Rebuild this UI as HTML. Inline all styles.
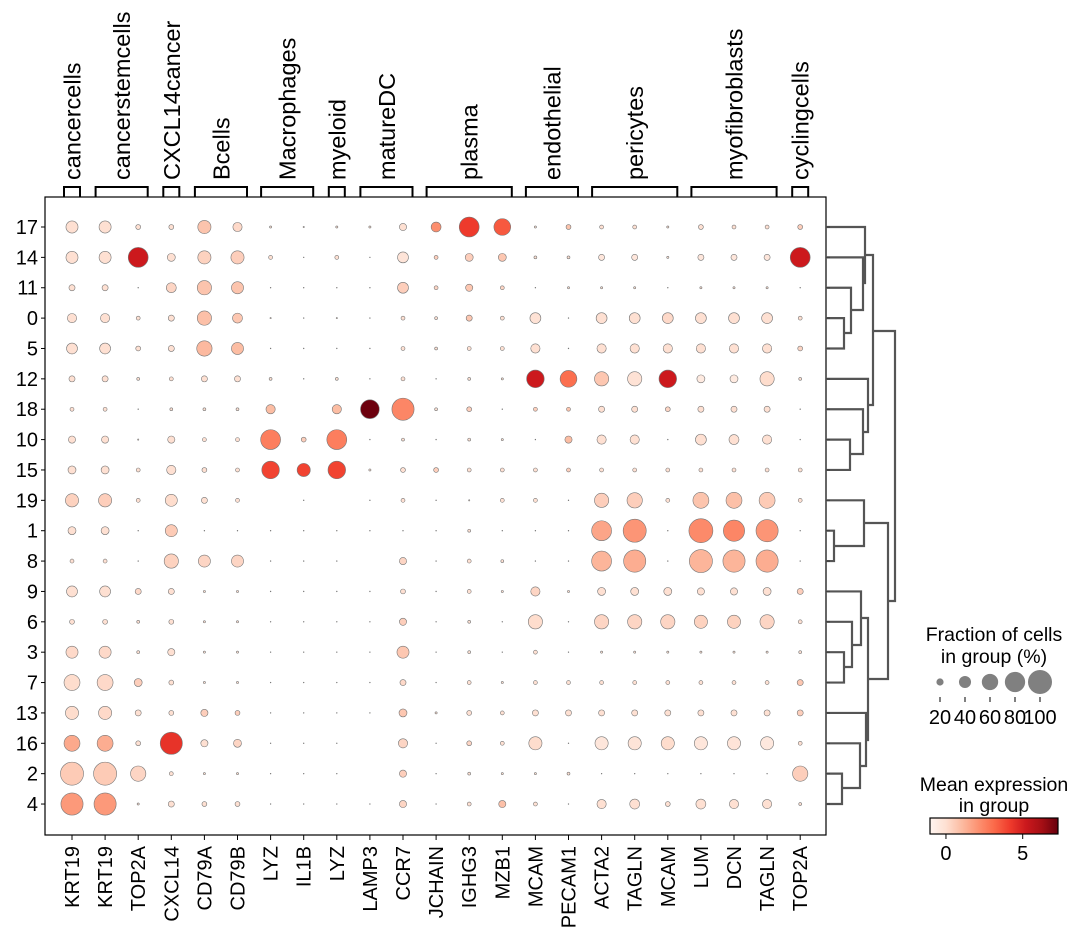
<!DOCTYPE html>
<html><head><meta charset="utf-8"><style>
html,body{margin:0;padding:0;background:#fff;}
svg{display:block;font-family:"Liberation Sans",Arial,sans-serif;}
</style></head><body>
<svg id="chart" width="1080" height="939" viewBox="0 0 1080 939" xmlns="http://www.w3.org/2000/svg">
<defs><linearGradient id="reds" x1="0" x2="1" y1="0" y2="0">
<stop offset="0" stop-color="#fff5f0"/><stop offset="0.125" stop-color="#fee0d2"/><stop offset="0.25" stop-color="#fcbba1"/><stop offset="0.375" stop-color="#fc9272"/><stop offset="0.5" stop-color="#fb6a4a"/><stop offset="0.625" stop-color="#ef3b2c"/><stop offset="0.75" stop-color="#cb181d"/><stop offset="0.875" stop-color="#a50f15"/><stop offset="1" stop-color="#67000d"/>
</linearGradient></defs>
<g id="plot"></g>
</svg>
<script>
const genes = ["KRT19","KRT19","TOP2A","CXCL14","CD79A","CD79B","LYZ","IL1B","LYZ","LAMP3","CCR7","JCHAIN","IGHG3","MZB1","MCAM","PECAM1","ACTA2","TAGLN","MCAM","LUM","DCN","TAGLN","TOP2A"];
const clusters = ["17","14","11","0","5","12","18","10","15","19","1","8","9","6","3","7","13","16","2","4"];
const groupNames = ["cancercells","cancerstemcells","CXCL14cancer","Bcells","Macrophages","myeloid","matureDC","plasma","endothelial","pericytes","myofibroblasts","cyclingcells"];
const groupStart = [0,1,3,4,6,8,9,11,14,16,19,22];
const groupEnd   = [0,2,3,5,7,8,10,13,15,18,21,22];
// fraction of cells (%) per cluster row
const frac17 = [40,40,12,12,45,28,4,2,4,4,20,31,78,62,4,12,9,9,4,12,9,9,12];
const frac14 = [40,40,78,23,45,45,9,1,9,1,35,9,23,23,6,6,16,16,4,16,16,16,78];
const frac11 = [16,16,1,31,50,40,1,1,1,1,35,9,20,9,1,4,4,4,1,4,4,4,1];
const frac0  = [28,28,9,16,50,31,2,1,2,1,9,6,16,9,35,1,35,35,35,35,35,35,9];
const frac5  = [35,35,12,16,55,40,1,1,1,1,9,6,9,9,28,1,28,28,28,28,28,28,12];
const frac12 = [16,16,6,9,16,16,6,1,6,1,9,1,6,4,66,62,50,50,66,23,23,50,6];
const frac18 = [9,9,1,6,6,6,28,0,28,72,90,6,12,1,9,9,16,16,12,16,16,16,1];
const frac10 = [20,20,2,20,9,9,78,12,78,1,6,1,6,4,1,20,28,28,1,35,31,28,1];
const frac15 = [23,23,9,28,12,9,66,45,66,4,12,12,9,9,9,9,9,9,9,9,9,9,9];
const frac19 = [45,45,9,40,16,9,0,1,0,1,9,1,2,9,9,1,50,55,9,58,58,58,9];
const frac1  = [23,23,1,40,1,1,1,1,1,1,1,1,6,1,1,1,78,95,1,100,85,90,1];
const frac8  = [9,9,1,50,40,40,1,1,1,0,20,1,9,6,1,1,78,90,1,95,90,90,1];
const frac9  = [35,35,16,16,4,4,1,1,1,1,12,1,9,4,28,4,23,23,23,20,20,23,16];
const frac6  = [12,12,6,12,4,4,1,1,1,1,20,1,6,1,50,1,50,50,50,45,45,50,9];
const frac3  = [40,40,6,20,4,4,1,1,1,1,40,1,6,1,9,1,4,4,4,4,4,4,6];
const frac7  = [58,58,23,12,4,4,1,1,1,1,16,1,9,4,9,9,9,9,9,9,9,9,16];
const frac13 = [45,45,16,12,20,12,1,1,1,1,23,4,12,9,16,16,16,16,16,16,16,16,16];
const frac16 = [58,58,12,90,20,23,1,1,1,0,28,1,12,9,45,1,45,45,45,45,45,45,9];
const frac2  = [95,95,55,9,4,4,1,1,1,0,20,1,6,4,4,6,1,1,1,1,1,1,55];
const frac4  = [90,90,4,16,12,12,1,1,1,1,20,1,9,20,9,1,28,31,12,31,28,28,6];
const fracRows = [frac17,frac14,frac11,frac0,frac5,frac12,frac18,frac10,frac15,frac19,frac1,frac8,frac9,frac6,frac3,frac7,frac13,frac16,frac2,frac4];
// mean expression per cluster row
const expr17 = [0,0,0,0,0.8,0.2,0,0,0,0,0,2.2,4.2,3.5,0,0.8,0,0,0,0,0,0,0.5];
const expr14 = [0,0,5.2,0,0.4,0.5,0,0,0,0,-0.2,0.5,0.5,0.7,0,0,-0.3,-0.3,0,-0.3,-0.3,-0.3,5.2];
const expr11 = [0,0,0,0.3,0.8,0.8,0,0,0,0,0.5,0.3,0.7,0.3,0,0,0,0,0,0,0,0,0];
const expr0  = [0,0,0,0,0.9,0.7,0,0,0,0,0,0,0.7,0,-0.1,0,0,0,0.2,0,0,0,0];
const expr5  = [0,0,0,0,1.1,1.0,0,0,0,0,0,0,0,0,0,0,0,0,0,0,0,0,0.3];
const expr12 = [0,0,0,0,0,0,0,0,0,0,0,0,0,0,5.2,3.0,0.7,-0.1,5.2,-0.5,-0.5,0.1,0];
const expr18 = [0,0,0,0,0,0,1.0,0,1.0,7.2,2.4,0,0.5,0,0.5,0.8,0,0,0.3,0,0,0,0];
const expr10 = [0,0,0,0,0,0,2.6,0.5,2.6,0,0,0,0,0,0,1.0,0,0,0,0,0,0,0];
const expr15 = [0,0,0,0,0,0,4.0,4.0,4.0,0,0,0.5,0,0,0,0.5,0,0,0,0,0,0,0];
const expr19 = [0.4,0.5,0,0.1,0,0,0,0,0,0,0,0,0,0,0,0,0.5,0.5,0,0.8,0.9,0.6,0];
const expr1  = [0,0,0,0.6,0,0,0,0,0,0,0,0,0,0,0,0,1.6,2.0,0,2.3,2.4,2.0,0];
const expr8  = [0,0,0,0.4,0.3,0.3,0,0,0,0,0.3,0,0,0,0,0,1.2,1.4,0,1.2,1.2,1.4,0];
const expr9  = [0,0,0.2,0,0,0,0,0,0,0,0,0,0,0,0.3,0,0,0,0,0,0,0,0.5];
const expr6  = [0,0,0,0,0,0,0,0,0,0,0.5,0,0,0,0.1,0,0.3,0.3,0.3,0.4,0.4,0.3,0];
const expr3  = [0.2,0.2,0,0,0,0,0,0,0,0,0.7,0,0,0,0,0,0,0,0,0,0,0,0];
const expr7  = [0.1,0.2,0.5,0,0,0,0,0,0,0,0.2,0,0,0,0,0,0,0,0,0,0,0,0.7];
const expr13 = [0.1,0.2,0,0,0.5,0.5,0,0,0,0,0.7,0,0,0,0,0,0,0,0,0,0,0,0.5];
const expr16 = [1.5,1.4,0,4.4,0,0.3,0,0,0,0,0.3,0,0.3,0,0.1,0,-0.3,-0.2,0.1,-0.3,-0.2,-0.4,0];
const expr2  = [0.6,0.6,0.3,0,0,0,0,0,0,0,0.5,0,0,0,0,0,0,0,0,0,0,0,0.5];
const expr4  = [1.9,1.9,0,0,0,0,0,0,0,0,0.3,0,0,0.9,0,0,0,0,0,0,0,0,0];
const exprRows = [expr17,expr14,expr11,expr0,expr5,expr12,expr18,expr10,expr15,expr19,expr1,expr8,expr9,expr6,expr3,expr7,expr13,expr16,expr2,expr4];
const legendFracs = [20,40,60,80,100];
const cbarTicks = [0,5];

const NS="http://www.w3.org/2000/svg";
const g=document.getElementById('plot');
function mk(tag,attrs,parent){const e=document.createElementNS(NS,tag);for(const k in attrs)e.setAttribute(k,attrs[k]);(parent||g).appendChild(e);return e;}
const X0=72, DX=33.1, Y0=227, DY=30.37;
const xS=i=>X0+i*DX, yS=j=>Y0+j*DY;
const rS=f=>12*Math.pow(Math.max(f,0)/100,0.75);
const VMIN=-1.04, VMAX=7.3;
const stops=[[255,245,240],[254,224,210],[252,187,161],[252,146,114],[251,106,74],[239,59,44],[203,24,29],[165,15,21],[103,0,13]];
function cS(v){let t=(v-VMIN)/(VMAX-VMIN);t=Math.max(0,Math.min(1,t))*8;const i=Math.min(7,Math.floor(t)),f=t-i;const a=stops[i],b=stops[i+1];return `rgb(${a.map((c,k)=>Math.round(c+(b[k]-c)*f)).join(',')})`;}
const axX=xS(0)-27, axR=826, axT=197, axB=835;
const frame=mk('rect',{x:axX,y:axT,width:axR-axX,height:axB-axT,fill:'none',stroke:'#000','stroke-width':1.2});


clusters.forEach((cl,j)=>{
  const yl=mk('text',{x:axX-7,y:yS(j)+7,'text-anchor':'end','font-size':20,fill:'#000'});yl.textContent=cl;
  
  
  mk('line',{x1:axX-4,x2:axX,y1:yS(j),y2:yS(j),stroke:'#000','stroke-width':1});
  genes.forEach((gn,i)=>{
    const r=rS(fracRows[j][i]); if(r<=0) return;
    const c=mk('circle',{cx:xS(i),cy:yS(j),r:r,fill:cS(exprRows[j][i]),stroke:'#777','stroke-width':0.6});
    
    
  });
});
genes.forEach((gn,i)=>{
  mk('line',{x1:xS(i),x2:xS(i),y1:axB,y2:axB+5,stroke:'#000','stroke-width':1});
  const t=mk('text',{transform:`translate(${xS(i)+7},${axB+11}) rotate(-90)`,'text-anchor':'end','font-size':20,fill:'#000'});t.textContent=gn;
  
  
});
groupNames.forEach((nm,k)=>{
  const s=groupStart[k],e=groupEnd[k];
  const pad = s===e?8:9.5;
  const x1=xS(s)-pad, x2=xS(e)+pad;
  const p=mk('path',{d:`M${x1},197 V187 H${x2} V197`,fill:'none',stroke:'#000','stroke-width':2});
  
  
  const t=mk('text',{transform:`translate(${(x1+x2)/2+8.5},180) rotate(-90)`,'font-size':23.5,fill:'#000'});t.textContent=nm;
  
  
});
const dg=mk('g',{fill:'none',stroke:'#555','stroke-width':2.2});


const dend=[
 [yS(3),yS(4),844,827,827],[yS(2),333,851,827,844],[yS(1),310,863,827,851],[yS(0),283,865,827,863],
 [yS(7),yS(8),850,827,827],[yS(6),454,863,827,850],[yS(5),432,868,827,863],[255,405,873,865,868],
 [yS(10),yS(11),834,827,827],[yS(9),546,864,827,834],
 [yS(14),yS(15),844,827,827],[yS(13),667,852,827,844],[yS(12),645,861,827,852],
 [yS(18),yS(19),842,827,827],[yS(17),788,860,827,842],[yS(16),766,866,827,860],[618,740,868,861,866],
 [523,679,888,864,868],[331,601,895,873,888]
];
dend.forEach(([ya,yb,xj,xa,xb])=>{mk('path',{d:`M${xa},${ya} H${xj} V${yb} H${xb}`},dg);});
clusters.forEach((cl,j)=>mk('line',{x1:826,x2:830,y1:yS(j),y2:yS(j),stroke:'#444','stroke-width':1.5}));
function txt(x,y,s,name,size,anchor){const t=mk('text',{x:x,y:y,'font-size':size||19.5,'text-anchor':anchor||'middle',fill:'#000'});t.textContent=s;return t;}
txt(994,641,'Fraction of cells','size-legend-title');
txt(994,663,'in group (%)','size-legend-title-2');
legendFracs.forEach((f,k)=>{
  const x=940+k*25;
  const c=mk('circle',{cx:x,cy:682,r:rS(f),fill:'#808080'});
  
  
  mk('line',{x1:x,x2:x,y1:697,y2:702,stroke:'#000','stroke-width':1});
  txt(x,724,String(f),'size-legend-label-'+f,20);
});
txt(994,791,'Mean expression','colorbar-title');
txt(994,812,'in group','colorbar-title-2');
const cb=mk('rect',{x:930,y:818,width:128,height:16,fill:'url(#reds)',stroke:'#000','stroke-width':1.2});


cbarTicks.forEach(v=>{
  const x=930+(v-VMIN)/(VMAX-VMIN)*128;
  mk('line',{x1:x,x2:x,y1:834,y2:839,stroke:'#000','stroke-width':1});
  txt(x,860,String(v),'colorbar-tick-'+v,20);
});
</script>
</body></html>
